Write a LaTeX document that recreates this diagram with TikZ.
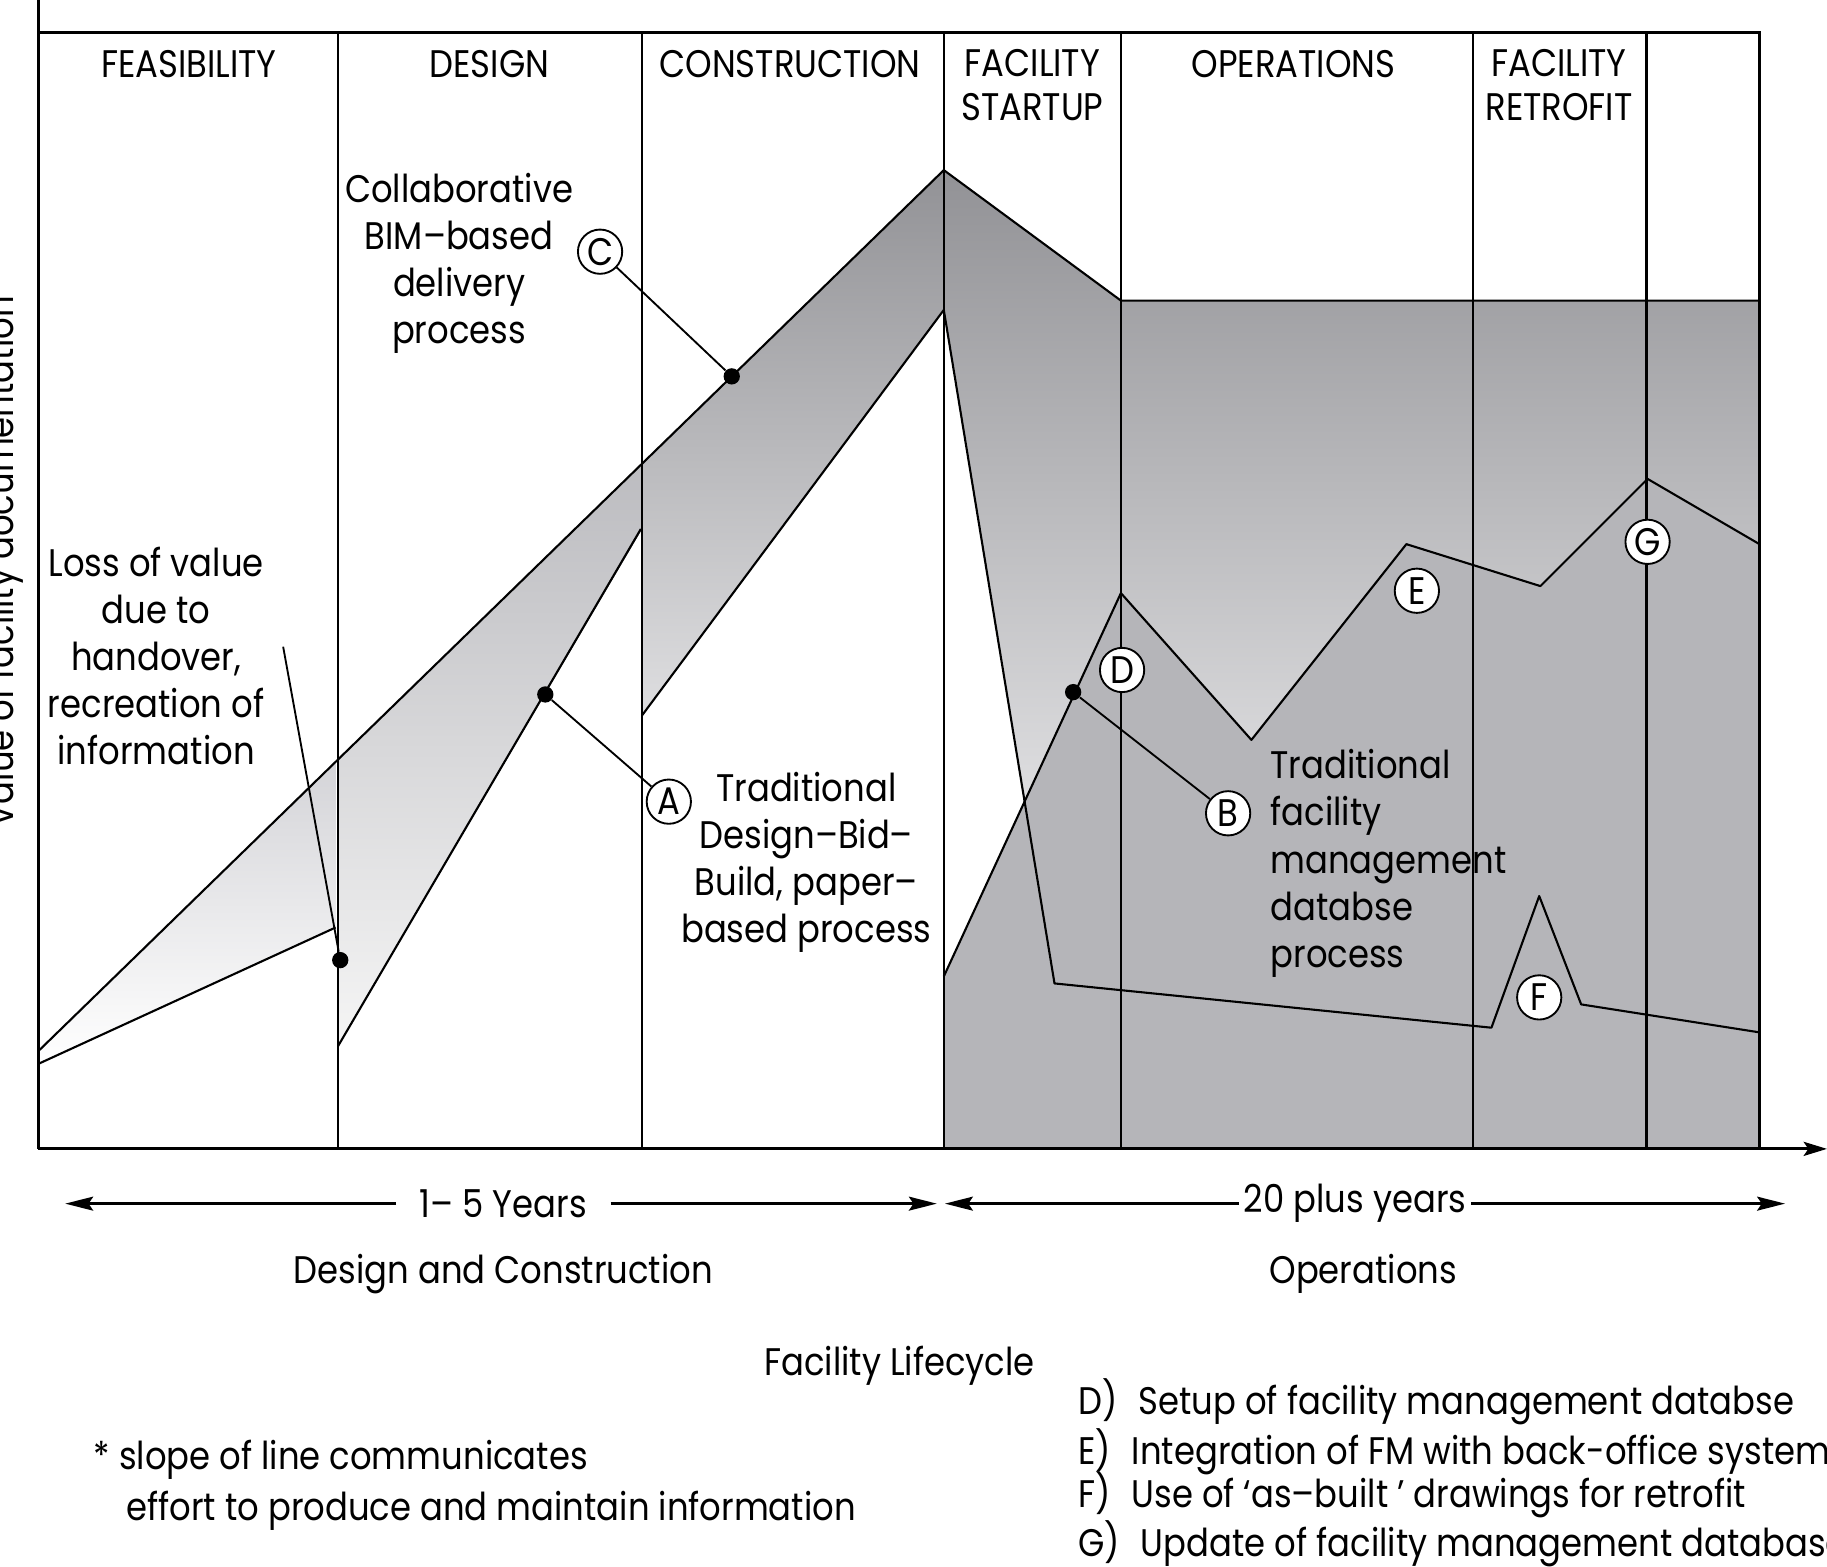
\documentclass[tikz,border=0pt]{standalone}
\usepackage{fontspec}
\setmainfont{Poppins}[FakeStretch=0.88]
\usetikzlibrary{arrows.meta}

\definecolor{opsgray}{HTML}{B5B5B9}
\definecolor{shadetop}{HTML}{929296}
\definecolor{shadelow}{HTML}{DEDEE0}
\definecolor{bandtop}{HTML}{BCBCC0}
\definecolor{bandfeas}{HTML}{D4D4D8}

\newcommand\txt{\fontsize{16.5pt}{20.25pt}\selectfont}
\newcommand\hdtxt{\fontsize{16.5pt}{18.5pt}\selectfont}

\tikzset{
  lbl/.style={font=\txt, align=center, inner sep=0pt},
  head/.style={font=\hdtxt, align=center, inner sep=0pt},
  letter/.style={circle, draw, fill=white, line width=0.8pt, minimum size=19pt, inner sep=0pt, font=\txt},
  dot/.style={circle, fill=black, inner sep=0pt, minimum size=7pt},
  border/.style={line width=1.3pt},
  graphline/.style={line width=0.9pt, line join=round},
  pointer/.style={line width=0.8pt},
  span/.style={line width=1pt, -{Stealth[length=12pt,width=6pt,inset=2pt]}},
}

\begin{document}
\begin{tikzpicture}[x=0.5pt, y=-0.5pt]
\useasboundingbox (0,0) rectangle (1568,1344);

% shaded bands
\fill[top color=bandfeas, bottom color=white] (33,902) -- (288,654) -- (288,796) -- (33,913) -- cycle;
\fill[top color=bandtop, bottom color=white!96!black] (290,652) -- (551,398) -- (551,454) -- (290,898) -- cycle;
\fill[top color=shadetop, bottom color=shadelow] (551,398) -- (810,146) -- (810,266) -- (551,614) -- cycle;
\fill[top color=shadetop, bottom color=shadelow] (810,146) -- (962,258) -- (1510,258) -- (1510,467) -- (1414,411)
  -- (1322,503) -- (1207,467) -- (1074,635) -- (962,509) -- (879,688) -- (810,266) -- cycle;
\fill[opsgray] (810,838) -- (879,688) -- (962,509) -- (1074,635) -- (1207,467) -- (1322,503) -- (1414,411)
  -- (1510,467) -- (1510,986) -- (810,986) -- cycle;

% frame and phases
\coordinate (o) at (33,986);
\coordinate (xend) at (1568,986);
\draw[border] (33,0) -- (o);
\draw[border] (33,28) -- (1510,28) -- (1510,986);
\draw[border, -{Stealth[length=10pt,width=6pt,inset=2pt]}] (o) -- (xend);
\foreach \x in {290,551,810,962,1264,1413}
  \draw[line width=1pt] (\x,28) -- (\x,986);

\node[head] (feas) at (162,55) {FEASIBILITY};
\node[head] (des) at (420,55) {DESIGN};
\node[head] (cons) at (678,55) {CONSTRUCTION};
\node[head] (start) at (886,73) {FACILITY\\STARTUP};
\node[head] (oper) at (1110,55) {OPERATIONS};
\node[head] (retro) at (1338,73) {FACILITY\\RETROFIT};

% value lines
\draw[graphline] (33,902) -- (810,146) -- (962,258) -- (1510,258);
\draw[graphline] (33,913) -- (288,796);
\draw[graphline] (290,898) -- (550,454);
\draw[graphline] (551,614) -- (810,266) -- (905,844) -- (1280,882) -- (1321,769) -- (1357,862) -- (1510,886);
\draw[graphline] (810,838) -- (962,509) -- (1074,635) -- (1207,467) -- (1322,503) -- (1414,411) -- (1510,467);

% dots and call-outs
\node[dot] (dotL) at (292,824) {};
\node[dot] (dotA) at (468,596) {};
\node[dot] (dotC) at (628,323) {};
\node[dot] (dotB) at (921,594) {};
\coordinate (lossend) at (243,555);

\node[letter] (C) at (515,216) {C};
\node[letter] (A) at (574,688) {A};
\node[letter] (B) at (1054,698) {B};
\node[letter] (D) at (963,575) {D};
\node[letter] (E) at (1216,507) {E};
\node[letter] (F) at (1321,856) {F};
\node[letter] (G) at (1414,465) {G};

\draw[pointer] (lossend) -- (dotL);
\draw[pointer] (dotA) -- (A);
\draw[pointer] (C) -- (dotC);
\draw[pointer] (dotB) -- (B);

\node[lbl] (loss) at (134,563) {Loss of value\\due to\\handover,\\recreation of\\information};
\node[lbl] (bim) at (394,226) {Collaborative\\BIM–based\\delivery\\process};
\node[lbl] (dbb) at (692,740) {Traditional\\Design–Bid–\\Build, paper–\\based process};
\node[lbl, align=left, anchor=west] (tfm) at (1090,741) {Traditional\\facility\\management\\databse\\process};

\node[lbl, rotate=90, anchor=base] (ylab) at (12,482) {Value of facility documentation};

% durations
\coordinate (y1l) at (56,1033);
\coordinate (y1r) at (804,1033);
\coordinate (y2l) at (811,1033);
\coordinate (y2r) at (1532,1033);
\node[lbl, inner xsep=10pt] (yrs1) at (432,1033) {1– 5 Years};
\node[lbl, inner xsep=2pt] (yrs2) at (1163,1033) {20 plus years};
\draw[span] (yrs1) -- (y1l);
\draw[span] (yrs1) -- (y1r);
\draw[span] (yrs2) -- (y2l);
\draw[span] (yrs2) -- (y2r);

\node[lbl] (dc) at (432,1093) {Design and Construction};
\node[lbl] (ops) at (1170,1093) {Operations};
\node[lbl] (life) at (772,1172) {Facility Lifecycle};
\node[lbl, anchor=west] (note1) at (80,1253) {* slope of line communicates};
\node[lbl, anchor=west] (note2) at (108,1297) {effort to produce and maintain information};

\node[lbl, anchor=west] (keyD) at (925,1203) {D)\hspace{9pt}Setup of facility management databse};
\node[lbl, anchor=west] (keyE) at (925,1246) {E)\hspace{9pt}Integration of FM with back-office systems};
\node[lbl, anchor=west] (keyF) at (925,1283) {F)\hspace{9pt}Use of ‘as–built ’ drawings for retrofit};
\node[lbl, anchor=west] (keyG) at (925,1325) {G)\hspace{9pt}Update of facility management database};
\end{tikzpicture}
\end{document}
